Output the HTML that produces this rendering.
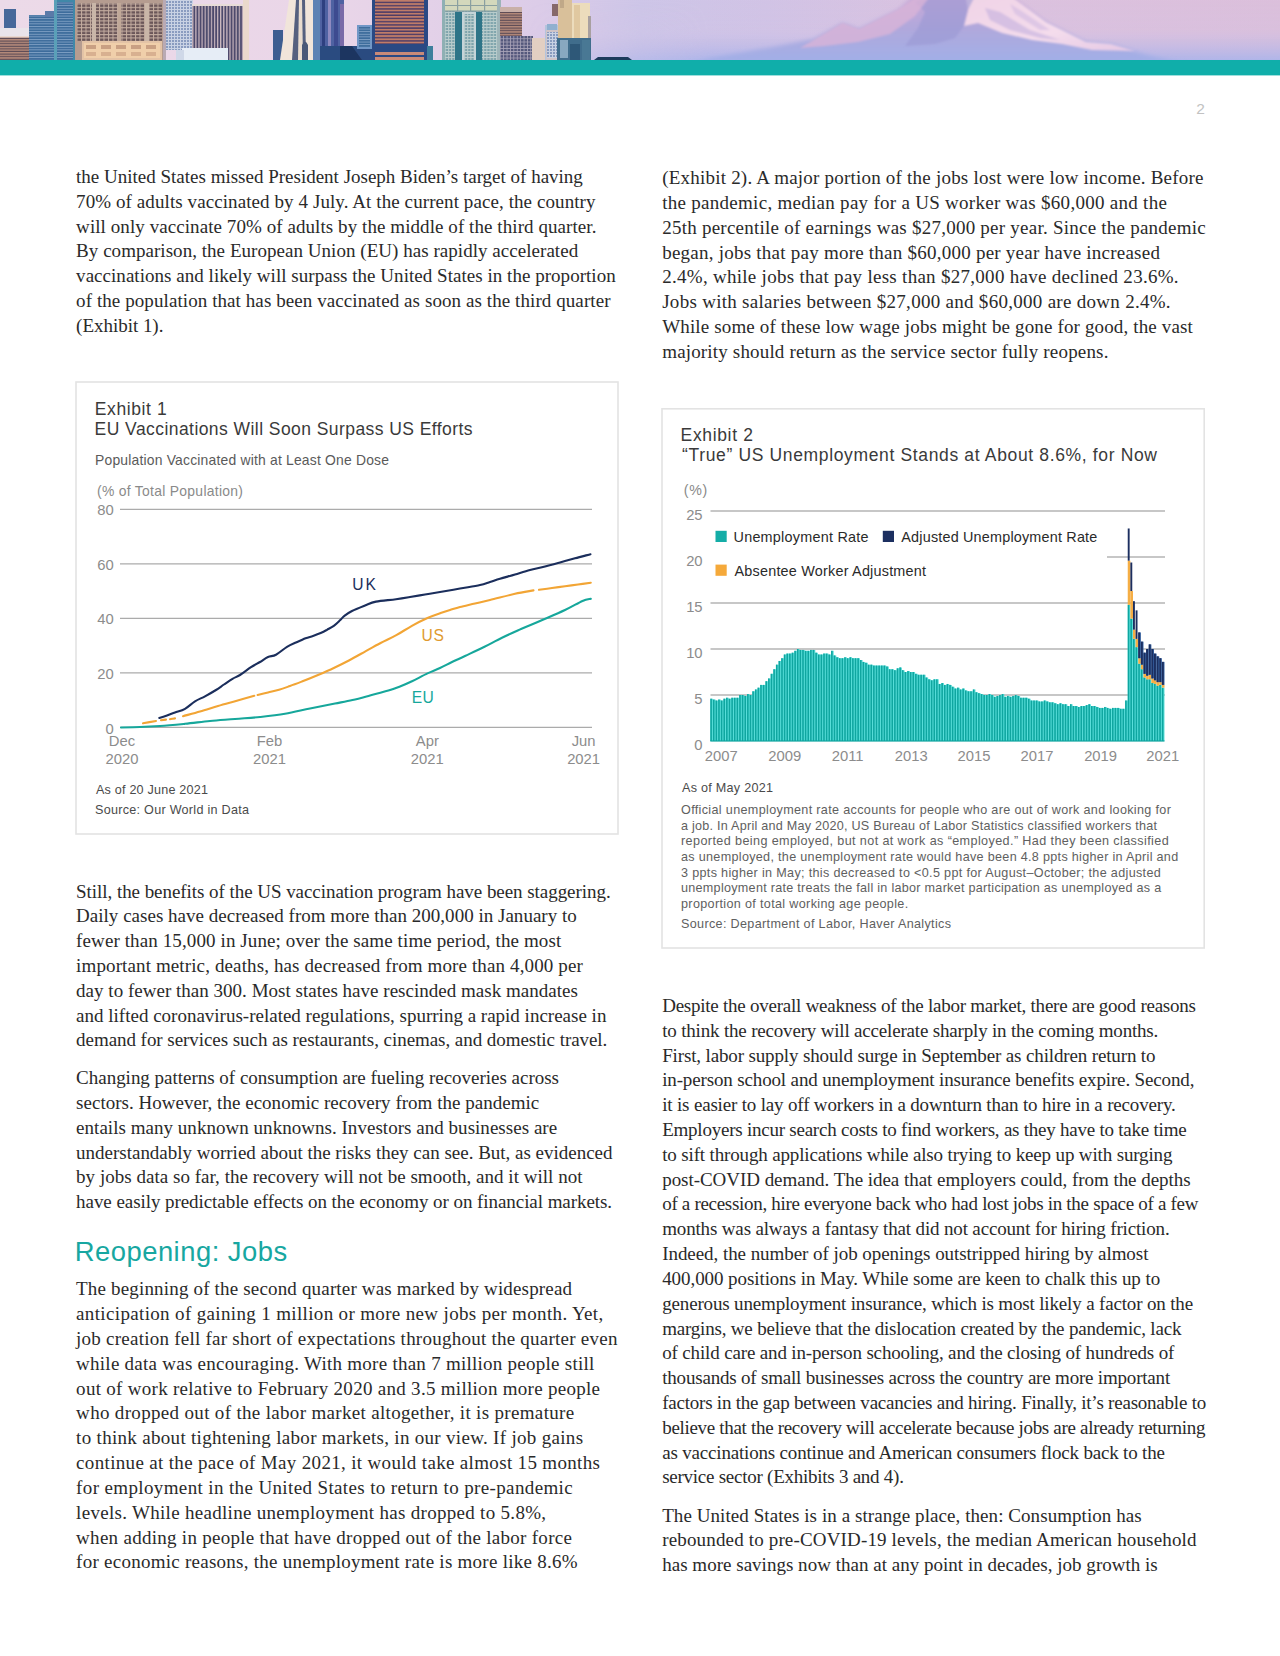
<!DOCTYPE html>
<html lang="en"><head><meta charset="utf-8"><title>Page 2</title>
<style>
html,body{margin:0;padding:0;background:#fff;}
body{width:1280px;height:1656px;position:relative;overflow:hidden;}
.hdr{position:absolute;left:0;top:0;display:block;}
.ex{position:absolute;display:block;}
.t{position:absolute;white-space:nowrap;font:19.0px/24px "Liberation Serif", "Times New Roman", serif;color:#2a2a2a;margin:0;}
.pn{position:absolute;left:1196.3px;top:100.6px;font:15.5px/16px "Liberation Sans",Arial,sans-serif;color:#c2c2c2;}
.h2{position:absolute;left:74.7px;white-space:nowrap;font:27.4px/32px "Liberation Sans",Arial,sans-serif;color:#17a7a1;margin:0;font-weight:normal;}
</style></head><body>
<svg class="hdr" width="1280" height="76" viewBox="0 0 1280 76">
<defs>
<linearGradient id="sky" x1="0" y1="0" x2="1" y2="0">
 <stop offset="0" stop-color="#ecdae8"/><stop offset="0.25" stop-color="#ead6e8"/><stop offset="0.42" stop-color="#dccce8"/><stop offset="0.5" stop-color="#cec6e8"/><stop offset="0.6" stop-color="#d2c4e6"/><stop offset="0.75" stop-color="#dcc3e0"/><stop offset="1" stop-color="#dcc0dc"/>
</linearGradient>
<linearGradient id="haze" x1="0" y1="0" x2="0" y2="1">
 <stop offset="0" stop-color="#c9bfe6" stop-opacity="0"/><stop offset="0.5" stop-color="#c9bfe6" stop-opacity="0.12"/><stop offset="0.85" stop-color="#b4b6e8" stop-opacity="0.7"/><stop offset="1" stop-color="#aab4ea" stop-opacity="0.9"/>
</linearGradient>
<linearGradient id="mtn" x1="0" y1="0" x2="0" y2="1">
 <stop offset="0" stop-color="#caa8d6"/><stop offset="0.5" stop-color="#b0a8dc"/><stop offset="1" stop-color="#a0b0e8"/>
</linearGradient>
<linearGradient id="snow" x1="0" y1="0" x2="1" y2="1">
 <stop offset="0" stop-color="#f0d3e6"/><stop offset="0.6" stop-color="#f4dcec"/><stop offset="1" stop-color="#e4c8e4"/>
</linearGradient>
<pattern id="hs1" width="4" height="3.2" patternUnits="userSpaceOnUse"><rect width="4" height="3.2" fill="#c07c68"/><rect y="1.8" width="4" height="1.4" fill="#4a3a66"/></pattern>
<pattern id="hs2" width="4" height="2.6" patternUnits="userSpaceOnUse"><rect width="4" height="2.6" fill="#b58a7a"/><rect y="1.5" width="4" height="1.1" fill="#5b4a55"/></pattern>
<pattern id="vs1" width="3.1" height="4" patternUnits="userSpaceOnUse"><rect width="3.1" height="4" fill="#cbb8c0"/><rect x="1.2" width="1.9" height="4" fill="#4d4a6c"/></pattern>
<pattern id="gr1" width="3" height="3" patternUnits="userSpaceOnUse"><rect width="3" height="3" fill="#c9d2e4"/><rect x="1" y="1" width="2" height="2" fill="#8a9cc0"/></pattern>
<pattern id="gr2" width="3" height="2.6" patternUnits="userSpaceOnUse"><rect width="3" height="2.6" fill="#3d6c9c"/><rect x="0" y="0" width="3" height="0.9" fill="#7fa0c4"/></pattern>
<pattern id="gr3" width="3.2" height="3" patternUnits="userSpaceOnUse"><rect width="3.2" height="3" fill="#b9cccc"/><rect x="1" y="1" width="2.2" height="2" fill="#7fa4ac"/></pattern>
<pattern id="gr4" width="4.5" height="3.4" patternUnits="userSpaceOnUse"><rect width="4.5" height="3.4" fill="#c4ada0"/><rect x="1" y="1.1" width="3.5" height="2.3" fill="#6a5658"/></pattern>
<pattern id="gr5" width="3.4" height="3.2" patternUnits="userSpaceOnUse"><rect width="3.4" height="3.2" fill="#a9a3b8"/><rect x="0.8" y="0.8" width="2.6" height="2.4" fill="#55597c"/></pattern>
<filter id="b1" x="-5%" y="-20%" width="110%" height="140%"><feGaussianBlur stdDeviation="0.75"/></filter>
<filter id="b2" x="-5%" y="-20%" width="110%" height="140%"><feGaussianBlur stdDeviation="2.2"/></filter>
<filter id="b3" x="-5%" y="-20%" width="110%" height="140%"><feGaussianBlur stdDeviation="1.1"/></filter>
<linearGradient id="hmg" x1="0" y1="0" x2="1" y2="0"><stop offset="0" stop-color="#000"/><stop offset="0.25" stop-color="#fff"/><stop offset="1" stop-color="#fff"/></linearGradient><mask id="hm" maskUnits="userSpaceOnUse" x="520" y="0" width="760" height="60"><rect x="520" y="0" width="760" height="60" fill="url(#hmg)"/></mask>
<clipPath id="hc"><rect width="1280" height="60"/></clipPath>
</defs>
<g clip-path="url(#hc)">
<rect width="1280" height="60" fill="url(#sky)"/>
<rect x="520" width="760" height="60" fill="url(#haze)" mask="url(#hm)"/>
<g filter="url(#b2)">
<polygon points="690,64 712,58 773,47 814,39 842.5,23 859,29 899,9 915,-6 1008,-6 1046,22 1086,42 1111,44 1147,55 1185,64" fill="url(#mtn)"/>
</g>
<g filter="url(#b3)">
<polygon points="965,-6 1008,-6 1046,22 1086,42 1111,44 1135,51 1092,50 1062,44 1032,40 1002,33 978,23 964,26 968,10" fill="url(#snow)"/>
<polygon points="915,2 935,-6 976,-6 968,10 964,26 955,38 935,44 905,46 918,28 925,12" fill="#9a98d4" opacity="0.6"/>
<polygon points="842.5,23 859,29 899,9 915,-2 930,-4 915,16 890,34 858,42 825,46 800,48" fill="#dab4d8" opacity="0.8"/>
<polygon points="985,8 1000,12 1030,30 1060,40 1040,38 1010,30 990,20" fill="#b9a8dc" opacity="0.5"/>
<polygon points="1010,4 1020,10 1050,30 1040,30 1015,14" fill="#c9b4e0" opacity="0.5"/>
</g>
<g filter="url(#b1)">
<rect x="4" y="9" width="12" height="20" fill="#46689a"/>
<rect x="0" y="28" width="32" height="9" fill="#e9e4ea"/>
<rect x="0" y="36" width="33" height="24" fill="url(#hs2)"/>
<rect x="0" y="36" width="33" height="1.5" fill="#e8d8d0"/>
<rect x="29" y="15" width="26" height="45" fill="url(#gr2)"/>
<rect x="45" y="11" width="10" height="6" fill="#5a7aa8"/>
<rect x="54" y="0" width="21" height="60" fill="#3f88a8"/>
<rect x="57" y="2" width="16" height="58" fill="url(#gr2)"/>
<rect x="54" y="0" width="3" height="60" fill="#5aa0b8"/>
<rect x="75" y="0" width="89" height="60" fill="#b59c90"/>
<rect x="77" y="3" width="85" height="38" fill="url(#gr4)"/>
<rect x="92" y="3" width="4" height="38" fill="#c9b6a8"/>
<rect x="145" y="3" width="4" height="38" fill="#c9b6a8"/>
<rect x="118" y="3" width="3" height="38" fill="#c0a898"/>
<rect x="82" y="41" width="80" height="19" fill="#e3c3a6"/>
<rect x="84" y="43" width="76" height="15" fill="url(#hs2)"/>
<rect x="84" y="43" width="76" height="15" fill="#f0cfaa"/>
<rect x="86" y="45" width="10" height="4" fill="#c9a083"/>
<rect x="86" y="52" width="10" height="4" fill="#d8b090"/>
<rect x="101" y="45" width="10" height="4" fill="#c9a083"/>
<rect x="101" y="52" width="10" height="4" fill="#d8b090"/>
<rect x="116" y="45" width="10" height="4" fill="#c9a083"/>
<rect x="116" y="52" width="10" height="4" fill="#d8b090"/>
<rect x="131" y="45" width="10" height="4" fill="#c9a083"/>
<rect x="131" y="52" width="10" height="4" fill="#d8b090"/>
<rect x="146" y="45" width="10" height="4" fill="#c9a083"/>
<rect x="146" y="52" width="10" height="4" fill="#d8b090"/>
<rect x="165" y="0" width="28" height="50" fill="url(#gr1)"/>
<rect x="163" y="0" width="3" height="60" fill="#b9aab4"/>
<rect x="192" y="4" width="52" height="56" fill="url(#vs1)"/>
<rect x="192" y="4" width="52" height="2" fill="#e8dcd8"/>
<rect x="243" y="0" width="6" height="60" fill="#ead9cc"/>
<rect x="182" y="48" width="46" height="12" fill="#e6edf6"/>
<rect x="176" y="50" width="8" height="10" fill="#cfd8e8"/>
<rect x="273" y="30" width="10" height="30" fill="#3c5d90"/>
<polygon points="289,0 313,0 316,60 280,60" fill="#f1e5da"/>
<polygon points="296,0 305,0 306,60 292,60" fill="#55607f"/>
<polygon points="299,0 302,0 303,60 298,60" fill="#e9dccf"/>
<path d="M302,60 L302,45 Q305,38 308,45 L308,60 Z" fill="#4a5878"/>
<rect x="313" y="0" width="8" height="60" fill="#5b82b4"/>
<rect x="320" y="0" width="24" height="48" fill="#4f62a2"/>
<rect x="322" y="0" width="3" height="48" fill="#2f3f80"/>
<rect x="328" y="0" width="3" height="48" fill="#8f8ac0"/>
<rect x="334" y="0" width="4" height="48" fill="#3c4c90"/>
<rect x="340" y="4" width="4" height="44" fill="#7a6aa8"/>
<rect x="320" y="46" width="52" height="14" fill="#2b4c80"/>
<rect x="357" y="25" width="15" height="24" fill="#7197c6"/>
<rect x="359" y="27" width="11" height="20" fill="url(#gr2)"/>
<polygon points="340,46 352,46 362,60 340,60" fill="#1f3560"/>
<rect x="372" y="0" width="56" height="60" fill="#2a4a84"/>
<rect x="375" y="0" width="49" height="44" fill="url(#hs1)"/>
<rect x="375" y="52" width="49" height="3" fill="#c98a78"/>
<rect x="375" y="57" width="49" height="3" fill="#c98a78"/>
<rect x="427" y="46" width="6" height="14" fill="#3d7f9c"/>
<rect x="442" y="0" width="59" height="60" fill="url(#gr3)"/>
<rect x="444" y="0" width="54" height="11" fill="#d3d8bc"/>
<rect x="444" y="5" width="54" height="1" fill="#8aa0a0"/>
<rect x="457" y="0" width="1.2" height="11" fill="#8aa0a0"/>
<rect x="470" y="0" width="1.2" height="11" fill="#8aa0a0"/>
<rect x="484" y="0" width="1.2" height="11" fill="#8aa0a0"/>
<rect x="444" y="10.5" width="54" height="1.2" fill="#7f9aa0"/>
<rect x="455" y="12" width="7" height="48" fill="#2d7488"/>
<rect x="476" y="12" width="6" height="48" fill="#2d7488"/>
<rect x="462" y="12" width="14" height="48" fill="#c5d4d8"/>
<rect x="464" y="14" width="10" height="46" fill="url(#gr3)"/>
<rect x="442" y="0" width="3" height="60" fill="#8fb0b4"/>
<rect x="497" y="0" width="4" height="60" fill="#9db4b8"/>
<rect x="500" y="7" width="22" height="29" fill="url(#hs2)"/>
<rect x="500" y="7" width="22" height="5" fill="#c9b0a8"/>
<rect x="500" y="36" width="33" height="24" fill="url(#gr5)"/>
<rect x="532" y="38" width="14" height="22" fill="#e2cfc2"/>
<rect x="545" y="25" width="18" height="35" fill="#b4c4dc"/>
<rect x="547" y="24" width="10" height="6" fill="#8fb0d0"/>
<rect x="546" y="30" width="16" height="30" fill="#cfc4c8"/>
<rect x="547" y="32" width="14" height="26" fill="url(#gr1)"/>
<rect x="552" y="4" width="8" height="12" fill="#86686a"/>
<rect x="558" y="0" width="14" height="40" fill="#d9c09a"/>
<rect x="560" y="0" width="4" height="8" fill="#c0a888"/>
<rect x="572" y="3" width="18" height="57" fill="#ecdcbc"/>
<rect x="574" y="5" width="6" height="55" fill="#e0c8a0"/>
<rect x="588" y="16" width="3" height="44" fill="#a8a0a0"/>
<rect x="557" y="38" width="34" height="22" fill="#3f6d8c"/>
<rect x="560" y="40" width="8" height="18" fill="#88a8c0"/>
<rect x="570" y="44" width="10" height="16" fill="#2f5878"/>
<rect x="582" y="40" width="8" height="20" fill="#4a7894"/>
<polygon points="594,60 598,57 628,57 632,60" fill="#1d3a5c"/>
</g>
</g>
<rect y="60" width="1280" height="15.4" fill="#10aeaa"/>
</svg>
<div class="pn">2</div>
<div class="t" style="left:76.1px;top:165.09px;letter-spacing:0.000px">the United States missed President Joseph Biden’s target of having</div>
<div class="t" style="left:76.1px;top:189.89px;letter-spacing:0.085px">70% of adults vaccinated by 4 July. At the current pace, the country</div>
<div class="t" style="left:76.1px;top:214.69px;letter-spacing:0.071px">will only vaccinate 70% of adults by the middle of the third quarter.</div>
<div class="t" style="left:76.1px;top:239.49px;letter-spacing:0.040px">By comparison, the European Union (EU) has rapidly accelerated</div>
<div class="t" style="left:76.1px;top:264.29px;letter-spacing:0.034px">vaccinations and likely will surpass the United States in the proportion</div>
<div class="t" style="left:76.1px;top:289.09px;letter-spacing:0.082px">of the population that has been vaccinated as soon as the third quarter</div>
<div class="t" style="left:76.1px;top:313.89px;letter-spacing:-0.026px">(Exhibit 1).</div>
<div class="t" style="left:76.1px;top:879.69px;letter-spacing:-0.052px">Still, the benefits of the US vaccination program have been staggering.</div>
<div class="t" style="left:76.1px;top:904.49px;letter-spacing:0.017px">Daily cases have decreased from more than 200,000 in January to</div>
<div class="t" style="left:76.1px;top:929.29px;letter-spacing:0.108px">fewer than 15,000 in June; over the same time period, the most</div>
<div class="t" style="left:76.1px;top:954.09px;letter-spacing:0.120px">important metric, deaths, has decreased from more than 4,000 per</div>
<div class="t" style="left:76.1px;top:978.89px;letter-spacing:0.016px">day to fewer than 300. Most states have rescinded mask mandates</div>
<div class="t" style="left:76.1px;top:1003.69px;letter-spacing:0.001px">and lifted coronavirus-related regulations, spurring a rapid increase in</div>
<div class="t" style="left:76.1px;top:1028.49px;letter-spacing:-0.054px">demand for services such as restaurants, cinemas, and domestic travel.</div>
<div class="t" style="left:76.1px;top:1066.29px;letter-spacing:-0.015px">Changing patterns of consumption are fueling recoveries across</div>
<div class="t" style="left:76.1px;top:1091.09px;letter-spacing:0.022px">sectors. However, the economic recovery from the pandemic</div>
<div class="t" style="left:76.1px;top:1115.89px;letter-spacing:0.033px">entails many unknown unknowns. Investors and businesses are</div>
<div class="t" style="left:76.1px;top:1140.69px;letter-spacing:-0.010px">understandably worried about the risks they can see. But, as evidenced</div>
<div class="t" style="left:76.1px;top:1165.49px;letter-spacing:0.024px">by jobs data so far, the recovery will not be smooth, and it will not</div>
<div class="t" style="left:76.1px;top:1190.29px;letter-spacing:-0.063px">have easily predictable effects on the economy or on financial markets.</div>
<div class="t" style="left:76.1px;top:1277.39px;letter-spacing:0.170px">The beginning of the second quarter was marked by widespread</div>
<div class="t" style="left:76.1px;top:1302.21px;letter-spacing:0.348px">anticipation of gaining 1 million or more new jobs per month. Yet,</div>
<div class="t" style="left:76.1px;top:1327.03px;letter-spacing:0.241px">job creation fell far short of expectations throughout the quarter even</div>
<div class="t" style="left:76.1px;top:1351.85px;letter-spacing:0.258px">while data was encouraging. With more than 7 million people still</div>
<div class="t" style="left:76.1px;top:1376.67px;letter-spacing:0.288px">out of work relative to February 2020 and 3.5 million more people</div>
<div class="t" style="left:76.1px;top:1401.49px;letter-spacing:0.327px">who dropped out of the labor market altogether, it is premature</div>
<div class="t" style="left:76.1px;top:1426.31px;letter-spacing:0.309px">to think about tightening labor markets, in our view. If job gains</div>
<div class="t" style="left:76.1px;top:1451.13px;letter-spacing:0.333px">continue at the pace of May 2021, it would take almost 15 months</div>
<div class="t" style="left:76.1px;top:1475.95px;letter-spacing:0.371px">for employment in the United States to return to pre-pandemic</div>
<div class="t" style="left:76.1px;top:1500.77px;letter-spacing:0.301px">levels. While headline unemployment has dropped to 5.8%,</div>
<div class="t" style="left:76.1px;top:1525.59px;letter-spacing:0.283px">when adding in people that have dropped out of the labor force</div>
<div class="t" style="left:76.1px;top:1550.41px;letter-spacing:0.258px">for economic reasons, the unemployment rate is more like 8.6%</div>
<div class="t" style="left:662.2px;top:166.14px;letter-spacing:0.216px">(Exhibit 2). A major portion of the jobs lost were low income. Before</div>
<div class="t" style="left:662.2px;top:190.94px;letter-spacing:0.282px">the pandemic, median pay for a US worker was $60,000 and the</div>
<div class="t" style="left:662.2px;top:215.74px;letter-spacing:0.238px">25th percentile of earnings was $27,000 per year. Since the pandemic</div>
<div class="t" style="left:662.2px;top:240.54px;letter-spacing:0.237px">began, jobs that pay more than $60,000 per year have increased</div>
<div class="t" style="left:662.2px;top:265.34px;letter-spacing:0.282px">2.4%, while jobs that pay less than $27,000 have declined 23.6%.</div>
<div class="t" style="left:662.2px;top:290.14px;letter-spacing:0.286px">Jobs with salaries between $27,000 and $60,000 are down 2.4%.</div>
<div class="t" style="left:662.2px;top:314.94px;letter-spacing:0.143px">While some of these low wage jobs might be gone for good, the vast</div>
<div class="t" style="left:662.2px;top:339.74px;letter-spacing:0.170px">majority should return as the service sector fully reopens.</div>
<div class="t" style="left:662.2px;top:993.99px;letter-spacing:-0.240px">Despite the overall weakness of the labor market, there are good reasons</div>
<div class="t" style="left:662.2px;top:1018.80px;letter-spacing:-0.181px">to think the recovery will accelerate sharply in the coming months.</div>
<div class="t" style="left:662.2px;top:1043.61px;letter-spacing:-0.140px">First, labor supply should surge in September as children return to</div>
<div class="t" style="left:662.2px;top:1068.42px;letter-spacing:-0.144px">in-person school and unemployment insurance benefits expire. Second,</div>
<div class="t" style="left:662.2px;top:1093.23px;letter-spacing:-0.173px">it is easier to lay off workers in a downturn than to hire in a recovery.</div>
<div class="t" style="left:662.2px;top:1118.04px;letter-spacing:-0.234px">Employers incur search costs to find workers, as they have to take time</div>
<div class="t" style="left:662.2px;top:1142.85px;letter-spacing:-0.149px">to sift through applications while also trying to keep up with surging</div>
<div class="t" style="left:662.2px;top:1167.66px;letter-spacing:-0.040px">post-COVID demand. The idea that employers could, from the depths</div>
<div class="t" style="left:662.2px;top:1192.47px;letter-spacing:-0.301px">of a recession, hire everyone back who had lost jobs in the space of a few</div>
<div class="t" style="left:662.2px;top:1217.28px;letter-spacing:-0.157px">months was always a fantasy that did not account for hiring friction.</div>
<div class="t" style="left:662.2px;top:1242.09px;letter-spacing:-0.056px">Indeed, the number of job openings outstripped hiring by almost</div>
<div class="t" style="left:662.2px;top:1266.90px;letter-spacing:-0.077px">400,000 positions in May. While some are keen to chalk this up to</div>
<div class="t" style="left:662.2px;top:1291.71px;letter-spacing:-0.162px">generous unemployment insurance, which is most likely a factor on the</div>
<div class="t" style="left:662.2px;top:1316.52px;letter-spacing:-0.193px">margins, we believe that the dislocation created by the pandemic, lack</div>
<div class="t" style="left:662.2px;top:1341.33px;letter-spacing:-0.150px">of child care and in-person schooling, and the closing of hundreds of</div>
<div class="t" style="left:662.2px;top:1366.14px;letter-spacing:-0.194px">thousands of small businesses across the country are more important</div>
<div class="t" style="left:662.2px;top:1390.95px;letter-spacing:-0.222px">factors in the gap between vacancies and hiring. Finally, it’s reasonable to</div>
<div class="t" style="left:662.2px;top:1415.76px;letter-spacing:-0.311px">believe that the recovery will accelerate because jobs are already returning</div>
<div class="t" style="left:662.2px;top:1440.57px;letter-spacing:-0.182px">as vaccinations continue and American consumers flock back to the</div>
<div class="t" style="left:662.2px;top:1465.38px;letter-spacing:-0.253px">service sector (Exhibits 3 and 4).</div>
<div class="t" style="left:662.2px;top:1503.64px;letter-spacing:0.067px">The United States is in a strange place, then: Consumption has</div>
<div class="t" style="left:662.2px;top:1528.44px;letter-spacing:0.159px">rebounded to pre-COVID-19 levels, the median American household</div>
<div class="t" style="left:662.2px;top:1553.24px;letter-spacing:0.018px">has more savings now than at any point in decades, job growth is</div>
<h2 class="h2" style="top:1235.74px;letter-spacing:0.495px">Reopening: Jobs</h2>
<svg class="ex" style="left:75px;top:381px" width="544" height="454" viewBox="75 381 544 454" font-family="'Liberation Sans', Arial, sans-serif">
<rect x="76" y="382" width="542" height="452" fill="#fff" stroke="#e3e3e3" stroke-width="1.6"/>
<text x="94.8" y="414.5" font-size="17.5" fill="#3a3a3a" textLength="72.0" lengthAdjust="spacing">Exhibit 1</text>
<text x="94.6" y="435.2" font-size="17.5" fill="#3a3a3a" textLength="378.0" lengthAdjust="spacing">EU Vaccinations Will Soon Surpass US Efforts</text>
<text x="95" y="465" font-size="13.9" fill="#5a5a5a" textLength="294.0" lengthAdjust="spacing">Population Vaccinated with at Least One Dose</text>
<text x="97" y="496" font-size="13.9" fill="#8a8a8a" textLength="146.0" lengthAdjust="spacing">(% of Total Population)</text>
<line x1="120" x2="592" y1="509.3" y2="509.3" stroke="#ababab" stroke-width="1.3"/>
<text x="113.8" y="515.4" font-size="14.8" fill="#8c8c8c" text-anchor="end">80</text>
<line x1="120" x2="592" y1="563.8" y2="563.8" stroke="#ababab" stroke-width="1.3"/>
<text x="113.8" y="569.9" font-size="14.8" fill="#8c8c8c" text-anchor="end">60</text>
<line x1="120" x2="592" y1="618.3" y2="618.3" stroke="#ababab" stroke-width="1.3"/>
<text x="113.8" y="624.4" font-size="14.8" fill="#8c8c8c" text-anchor="end">40</text>
<line x1="120" x2="592" y1="672.9" y2="672.9" stroke="#ababab" stroke-width="1.3"/>
<text x="113.8" y="679.0" font-size="14.8" fill="#8c8c8c" text-anchor="end">20</text>
<line x1="120" x2="592" y1="727.4" y2="727.4" stroke="#ababab" stroke-width="1.3"/>
<text x="113.8" y="733.5" font-size="14.8" fill="#8c8c8c" text-anchor="end">0</text>
<text x="122" y="746.3" font-size="14.8" fill="#8c8c8c" text-anchor="middle">Dec</text>
<text x="122" y="764" font-size="14.8" fill="#8c8c8c" text-anchor="middle">2020</text>
<text x="269.5" y="746.3" font-size="14.8" fill="#8c8c8c" text-anchor="middle">Feb</text>
<text x="269.5" y="764" font-size="14.8" fill="#8c8c8c" text-anchor="middle">2021</text>
<text x="427.3" y="746.3" font-size="14.8" fill="#8c8c8c" text-anchor="middle">Apr</text>
<text x="427.3" y="764" font-size="14.8" fill="#8c8c8c" text-anchor="middle">2021</text>
<text x="583.6" y="746.3" font-size="14.8" fill="#8c8c8c" text-anchor="middle">Jun</text>
<text x="583.6" y="764" font-size="14.8" fill="#8c8c8c" text-anchor="middle">2021</text>
<path d="M121.0,727.5 C124.2,727.4 133.5,727.2 140.0,727.0 C146.5,726.8 152.5,726.5 160.0,726.0 C167.5,725.5 176.7,724.6 185.0,723.8 C193.3,723.0 201.7,721.8 210.0,721.0 C218.3,720.2 226.7,719.7 235.0,719.0 C243.3,718.3 251.7,717.9 260.0,717.0 C268.3,716.1 276.7,715.2 285.0,713.8 C293.3,712.4 301.7,710.2 310.0,708.5 C318.3,706.8 327.9,704.9 335.0,703.5 C342.1,702.1 346.7,701.3 352.5,700.0 C358.3,698.7 364.0,697.1 370.0,695.5 C376.0,693.9 383.4,692.1 388.4,690.6 C393.4,689.1 396.1,688.0 400.0,686.5 C403.9,685.0 407.4,683.5 412.0,681.3 C416.6,679.1 422.8,675.6 427.5,673.4 C432.2,671.2 435.9,669.9 440.0,668.0 C444.1,666.1 447.8,664.0 452.0,662.0 C456.2,660.0 459.7,658.5 465.0,656.0 C470.3,653.5 477.8,650.1 484.0,647.0 C490.2,643.9 496.3,640.5 502.5,637.5 C508.7,634.5 514.8,631.8 521.0,629.0 C527.2,626.2 532.7,624.2 540.0,621.0 C547.3,617.8 557.9,613.3 565.0,610.0 C572.1,606.7 578.2,602.9 582.5,601.0 C586.8,599.1 589.4,599.2 590.8,598.8" fill="none" stroke="#16a79b" stroke-width="2.1" stroke-linecap="round"/>
<path d="M143.0,723.2 C145.2,722.8 153.8,721.4 156.0,721.0" fill="none" stroke="#f2a535" stroke-width="2.1" stroke-linecap="round"/>
<path d="M161.0,720.2 C161.8,720.1 165.2,719.7 166.0,719.6" fill="none" stroke="#f2a535" stroke-width="2.1" stroke-linecap="round"/>
<path d="M170.0,719.2 C170.8,719.1 174.2,718.5 175.0,718.4" fill="none" stroke="#f2a535" stroke-width="2.1" stroke-linecap="round"/>
<path d="M183.0,716.2 C185.8,715.4 194.2,713.2 200.0,711.5 C205.8,709.8 212.0,707.8 218.0,706.0 C224.0,704.2 229.9,702.7 236.0,701.0 C242.1,699.3 251.2,696.7 254.3,695.8" fill="none" stroke="#f2a535" stroke-width="2.1" stroke-linecap="round"/>
<path d="M257.6,695.0 C259.3,694.6 264.4,693.4 268.0,692.5 C271.6,691.6 275.3,690.9 279.0,689.8 C282.7,688.7 286.1,687.4 290.0,686.0 C293.9,684.6 297.8,683.1 302.5,681.3 C307.2,679.5 312.8,677.2 318.0,675.0 C323.2,672.8 328.6,670.5 333.8,668.0 C339.0,665.5 344.2,662.9 349.4,660.2 C354.6,657.5 359.8,654.5 365.0,651.6 C370.2,648.7 375.4,645.7 380.6,643.0 C385.8,640.3 391.1,638.1 396.3,635.2 C401.5,632.3 406.7,628.7 411.9,625.8 C417.1,622.9 422.8,620.1 427.5,618.0 C432.2,615.9 436.2,614.6 440.0,613.3 C443.8,612.0 446.7,611.0 450.0,610.0 C453.3,609.0 455.8,608.1 460.0,607.0 C464.2,605.9 470.0,604.7 475.0,603.5 C480.0,602.3 483.3,601.6 490.0,600.0 C496.7,598.4 507.8,595.4 515.0,593.8 C522.2,592.2 530.4,591.0 533.5,590.4" fill="none" stroke="#f2a535" stroke-width="2.1" stroke-linecap="round"/>
<path d="M539.0,589.8 C541.2,589.5 547.7,588.6 552.0,588.0 C556.3,587.4 560.7,586.8 565.0,586.2 C569.3,585.6 573.7,585.1 578.0,584.5 C582.3,583.9 588.7,583.0 590.8,582.7" fill="none" stroke="#f2a535" stroke-width="2.1" stroke-linecap="round"/>
<path d="M159.3,718.0 C160.6,717.6 164.4,716.4 167.0,715.5 C169.6,714.6 172.0,713.6 175.0,712.5 C178.0,711.4 181.7,710.7 185.0,708.8 C188.3,706.9 191.7,703.4 195.0,701.3 C198.3,699.2 201.5,698.2 205.0,696.3 C208.5,694.4 212.8,692.0 216.0,690.0 C219.2,688.0 221.2,686.4 224.0,684.5 C226.8,682.6 229.8,680.4 232.5,678.8 C235.2,677.2 236.9,676.9 240.0,675.0 C243.1,673.1 247.7,669.4 251.0,667.2 C254.3,665.0 257.2,663.7 260.0,662.0 C262.8,660.3 265.3,658.2 268.0,657.0 C270.7,655.8 272.8,656.4 276.0,654.7 C279.2,653.0 283.7,648.9 287.0,646.9 C290.3,644.9 292.9,643.9 296.0,642.5 C299.1,641.1 302.8,639.4 305.6,638.3 C308.4,637.2 310.4,636.9 313.0,636.0 C315.6,635.1 319.0,633.8 321.3,632.8 C323.6,631.8 324.9,631.0 327.0,629.8 C329.1,628.6 331.6,627.4 333.8,625.8 C336.0,624.2 338.2,622.0 340.0,620.3 C341.8,618.6 342.7,617.1 344.7,615.6 C346.7,614.1 348.6,612.7 352.0,611.0 C355.4,609.3 361.0,607.1 365.0,605.5 C369.0,603.9 370.8,602.6 376.0,601.6 C381.2,600.6 390.3,600.0 396.0,599.2 C401.7,598.4 405.2,597.8 410.0,597.0 C414.8,596.2 420.0,595.3 425.0,594.5 C430.0,593.7 434.2,593.0 440.0,592.0 C445.8,591.0 453.3,589.7 460.0,588.5 C466.7,587.3 475.0,586.1 480.0,585.0 C485.0,583.9 486.7,583.0 490.0,582.0 C493.3,581.0 495.8,580.0 500.0,578.8 C504.2,577.5 510.0,576.0 515.0,574.5 C520.0,573.0 525.0,571.3 530.0,570.0 C535.0,568.7 540.0,567.8 545.0,566.5 C550.0,565.2 555.0,563.9 560.0,562.5 C565.0,561.1 569.9,559.7 575.0,558.3 C580.1,556.9 587.9,554.9 590.5,554.2" fill="none" stroke="#1b2e5c" stroke-width="2.1" stroke-linecap="round"/>
<text x="352.3" y="590.3" font-size="15.6" fill="#1b2e5c" textLength="23.5" lengthAdjust="spacing">UK</text>
<text x="421.5" y="641.2" font-size="15.6" fill="#e09a30" textLength="22.5" lengthAdjust="spacing">US</text>
<text x="411.8" y="703.3" font-size="15.6" fill="#16a79b" textLength="22.0" lengthAdjust="spacing">EU</text>
<text x="96" y="793.8" font-size="12.6" fill="#4a4a4a" textLength="112.0" lengthAdjust="spacing">As of 20 June 2021</text>
<text x="95" y="814.3" font-size="12.6" fill="#4a4a4a" textLength="154.0" lengthAdjust="spacing">Source: Our World in Data</text>
</svg>
<svg class="ex" style="left:661px;top:408px" width="544" height="541" viewBox="661 408 544 541" font-family="'Liberation Sans', Arial, sans-serif">
<rect x="662" y="408.8" width="542.2" height="539.2" fill="#fff" stroke="#e3e3e3" stroke-width="1.6"/>
<text x="680.6" y="440.8" font-size="17.5" fill="#3a3a3a" textLength="72.3" lengthAdjust="spacing">Exhibit 2</text>
<text x="682" y="461.3" font-size="17.5" fill="#3a3a3a" textLength="475.0" lengthAdjust="spacing">“True” US Unemployment Stands at About 8.6%, for Now</text>
<text x="683.8" y="495.3" font-size="14.2" fill="#8a8a8a" textLength="23.5" lengthAdjust="spacing">(%)</text>
<line x1="710.5" x2="1165" y1="511.0" y2="511.0" stroke="#b4b4b4" stroke-width="1.3"/>
<line x1="1107" x2="1165" y1="557.0" y2="557.0" stroke="#b4b4b4" stroke-width="1.3"/>
<line x1="710.5" x2="1165" y1="603.0" y2="603.0" stroke="#b4b4b4" stroke-width="1.3"/>
<line x1="710.5" x2="1165" y1="649.0" y2="649.0" stroke="#b4b4b4" stroke-width="1.3"/>
<line x1="710.5" x2="1165" y1="695.0" y2="695.0" stroke="#b4b4b4" stroke-width="1.3"/>
<text x="702.6" y="519.6" font-size="14.8" fill="#8c8c8c" text-anchor="end">25</text>
<text x="702.6" y="565.6" font-size="14.8" fill="#8c8c8c" text-anchor="end">20</text>
<text x="702.6" y="611.6" font-size="14.8" fill="#8c8c8c" text-anchor="end">15</text>
<text x="702.6" y="657.6" font-size="14.8" fill="#8c8c8c" text-anchor="end">10</text>
<text x="702.6" y="703.6" font-size="14.8" fill="#8c8c8c" text-anchor="end">5</text>
<text x="702.6" y="749.6" font-size="14.8" fill="#8c8c8c" text-anchor="end">0</text>
<g shape-rendering="auto">
<polygon points="710.30,741.0 710.30,698.68 712.93,698.68 712.93,699.60 715.55,699.60 715.55,700.52 718.18,700.52 718.18,699.60 720.80,699.60 720.80,700.52 723.43,700.52 723.43,698.68 726.05,698.68 726.05,697.76 728.68,697.76 728.68,698.68 731.30,698.68 731.30,697.76 733.93,697.76 733.93,697.76 736.55,697.76 736.55,697.76 739.18,697.76 739.18,695.00 741.80,695.00 741.80,695.00 744.43,695.00 744.43,695.92 747.06,695.92 747.06,694.08 749.68,694.08 749.68,695.00 752.31,695.00 752.31,691.32 754.93,691.32 754.93,689.48 757.56,689.48 757.56,687.64 760.18,687.64 760.18,684.88 762.81,684.88 762.81,684.88 765.43,684.88 765.43,681.20 768.06,681.20 768.06,678.44 770.68,678.44 770.68,673.84 773.31,673.84 773.31,669.24 775.93,669.24 775.93,664.64 778.56,664.64 778.56,660.96 781.19,660.96 781.19,658.20 783.81,658.20 783.81,654.52 786.44,654.52 786.44,653.60 789.06,653.60 789.06,653.60 791.69,653.60 791.69,652.68 794.31,652.68 794.31,650.84 796.94,650.84 796.94,649.00 799.56,649.00 799.56,649.92 802.19,649.92 802.19,649.92 804.81,649.92 804.81,650.84 807.44,650.84 807.44,650.84 810.07,650.84 810.07,649.92 812.69,649.92 812.69,649.92 815.32,649.92 815.32,652.68 817.94,652.68 817.94,654.52 820.57,654.52 820.57,654.52 823.19,654.52 823.19,653.60 825.82,653.60 825.82,653.60 828.44,653.60 828.44,654.52 831.07,654.52 831.07,650.84 833.69,650.84 833.69,655.44 836.32,655.44 836.32,657.28 838.94,657.28 838.94,658.20 841.57,658.20 841.57,658.20 844.20,658.20 844.20,657.28 846.82,657.28 846.82,658.20 849.45,658.20 849.45,657.28 852.07,657.28 852.07,658.20 854.70,658.20 854.70,658.20 857.32,658.20 857.32,658.20 859.95,658.20 859.95,660.04 862.57,660.04 862.57,661.88 865.20,661.88 865.20,662.80 867.82,662.80 867.82,664.64 870.45,664.64 870.45,664.64 873.07,664.64 873.07,665.56 875.70,665.56 875.70,665.56 878.33,665.56 878.33,665.56 880.95,665.56 880.95,665.56 883.58,665.56 883.58,665.56 886.20,665.56 886.20,666.48 888.83,666.48 888.83,669.24 891.45,669.24 891.45,669.24 894.08,669.24 894.08,670.16 896.70,670.16 896.70,668.32 899.33,668.32 899.33,667.40 901.95,667.40 901.95,670.16 904.58,670.16 904.58,672.00 907.20,672.00 907.20,671.08 909.83,671.08 909.83,672.00 912.46,672.00 912.46,672.00 915.08,672.00 915.08,673.84 917.71,673.84 917.71,674.76 920.33,674.76 920.33,674.76 922.96,674.76 922.96,674.76 925.58,674.76 925.58,677.52 928.21,677.52 928.21,679.36 930.83,679.36 930.83,680.28 933.46,680.28 933.46,679.36 936.08,679.36 936.08,679.36 938.71,679.36 938.71,683.96 941.34,683.96 941.34,683.04 943.96,683.04 943.96,684.88 946.59,684.88 946.59,683.96 949.21,683.96 949.21,684.88 951.84,684.88 951.84,686.72 954.46,686.72 954.46,688.56 957.09,688.56 957.09,687.64 959.71,687.64 959.71,689.48 962.34,689.48 962.34,688.56 964.96,688.56 964.96,690.40 967.59,690.40 967.59,691.32 970.21,691.32 970.21,691.32 972.84,691.32 972.84,689.48 975.47,689.48 975.47,692.24 978.09,692.24 978.09,693.16 980.72,693.16 980.72,694.08 983.34,694.08 983.34,695.00 985.97,695.00 985.97,695.00 988.59,695.00 988.59,694.08 991.22,694.08 991.22,695.00 993.84,695.00 993.84,696.84 996.47,696.84 996.47,695.92 999.09,695.92 999.09,695.00 1001.72,695.00 1001.72,694.08 1004.34,694.08 1004.34,696.84 1006.97,696.84 1006.97,695.92 1009.60,695.92 1009.60,696.84 1012.22,696.84 1012.22,695.92 1014.85,695.92 1014.85,695.00 1017.47,695.00 1017.47,695.92 1020.10,695.92 1020.10,697.76 1022.72,697.76 1022.72,697.76 1025.35,697.76 1025.35,697.76 1027.97,697.76 1027.97,698.68 1030.60,698.68 1030.60,700.52 1033.22,700.52 1033.22,700.52 1035.85,700.52 1035.85,700.52 1038.47,700.52 1038.47,701.44 1041.10,701.44 1041.10,701.44 1043.73,701.44 1043.73,700.52 1046.35,700.52 1046.35,701.44 1048.98,701.44 1048.98,702.36 1051.60,702.36 1051.60,702.36 1054.23,702.36 1054.23,703.28 1056.85,703.28 1056.85,704.20 1059.48,704.20 1059.48,703.28 1062.10,703.28 1062.10,704.20 1064.73,704.20 1064.73,704.20 1067.35,704.20 1067.35,706.04 1069.98,706.04 1069.98,704.20 1072.61,704.20 1072.61,706.04 1075.23,706.04 1075.23,706.04 1077.86,706.04 1077.86,706.96 1080.48,706.96 1080.48,706.04 1083.11,706.04 1083.11,706.04 1085.73,706.04 1085.73,705.12 1088.36,705.12 1088.36,704.20 1090.98,704.20 1090.98,706.04 1093.61,706.04 1093.61,706.04 1096.23,706.04 1096.23,706.96 1098.86,706.96 1098.86,707.88 1101.48,707.88 1101.48,707.88 1104.11,707.88 1104.11,706.96 1106.74,706.96 1106.74,707.88 1109.36,707.88 1109.36,708.80 1111.99,708.80 1111.99,707.88 1114.61,707.88 1114.61,707.88 1117.24,707.88 1117.24,707.88 1119.86,707.88 1119.86,708.80 1122.49,708.80 1122.49,708.80 1125.11,708.80 1125.11,700.52 1127.74,700.52 1127.74,604.84 1130.36,604.84 1130.36,618.64 1132.99,618.64 1132.99,638.88 1135.61,638.88 1135.61,647.16 1138.24,647.16 1138.24,663.72 1140.87,663.72 1140.87,669.24 1143.49,669.24 1143.49,677.52 1146.12,677.52 1146.12,679.36 1148.74,679.36 1148.74,679.36 1151.37,679.36 1151.37,683.04 1153.99,683.04 1153.99,683.96 1156.62,683.96 1156.62,685.80 1159.24,685.80 1159.24,684.88 1161.87,684.88 1161.87,687.64 1164.49,687.64 1164.49,741.0" fill="#5be0dc"/>
<rect x="710.30" y="698.68" width="1.6" height="42.32" fill="#0fa6a0"/>
<rect x="712.93" y="699.60" width="1.6" height="41.40" fill="#0fa6a0"/>
<rect x="715.55" y="700.52" width="1.6" height="40.48" fill="#0fa6a0"/>
<rect x="718.18" y="699.60" width="1.6" height="41.40" fill="#0fa6a0"/>
<rect x="720.80" y="700.52" width="1.6" height="40.48" fill="#0fa6a0"/>
<rect x="723.43" y="698.68" width="1.6" height="42.32" fill="#0fa6a0"/>
<rect x="726.05" y="697.76" width="1.6" height="43.24" fill="#0fa6a0"/>
<rect x="728.68" y="698.68" width="1.6" height="42.32" fill="#0fa6a0"/>
<rect x="731.30" y="697.76" width="1.6" height="43.24" fill="#0fa6a0"/>
<rect x="733.93" y="697.76" width="1.6" height="43.24" fill="#0fa6a0"/>
<rect x="736.55" y="697.76" width="1.6" height="43.24" fill="#0fa6a0"/>
<rect x="739.18" y="695.00" width="1.6" height="46.00" fill="#0fa6a0"/>
<rect x="741.80" y="695.00" width="1.6" height="46.00" fill="#0fa6a0"/>
<rect x="744.43" y="695.92" width="1.6" height="45.08" fill="#0fa6a0"/>
<rect x="747.06" y="694.08" width="1.6" height="46.92" fill="#0fa6a0"/>
<rect x="749.68" y="695.00" width="1.6" height="46.00" fill="#0fa6a0"/>
<rect x="752.31" y="691.32" width="1.6" height="49.68" fill="#0fa6a0"/>
<rect x="754.93" y="689.48" width="1.6" height="51.52" fill="#0fa6a0"/>
<rect x="757.56" y="687.64" width="1.6" height="53.36" fill="#0fa6a0"/>
<rect x="760.18" y="684.88" width="1.6" height="56.12" fill="#0fa6a0"/>
<rect x="762.81" y="684.88" width="1.6" height="56.12" fill="#0fa6a0"/>
<rect x="765.43" y="681.20" width="1.6" height="59.80" fill="#0fa6a0"/>
<rect x="768.06" y="678.44" width="1.6" height="62.56" fill="#0fa6a0"/>
<rect x="770.68" y="673.84" width="1.6" height="67.16" fill="#0fa6a0"/>
<rect x="773.31" y="669.24" width="1.6" height="71.76" fill="#0fa6a0"/>
<rect x="775.93" y="664.64" width="1.6" height="76.36" fill="#0fa6a0"/>
<rect x="778.56" y="660.96" width="1.6" height="80.04" fill="#0fa6a0"/>
<rect x="781.19" y="658.20" width="1.6" height="82.80" fill="#0fa6a0"/>
<rect x="783.81" y="654.52" width="1.6" height="86.48" fill="#0fa6a0"/>
<rect x="786.44" y="653.60" width="1.6" height="87.40" fill="#0fa6a0"/>
<rect x="789.06" y="653.60" width="1.6" height="87.40" fill="#0fa6a0"/>
<rect x="791.69" y="652.68" width="1.6" height="88.32" fill="#0fa6a0"/>
<rect x="794.31" y="650.84" width="1.6" height="90.16" fill="#0fa6a0"/>
<rect x="796.94" y="649.00" width="1.6" height="92.00" fill="#0fa6a0"/>
<rect x="799.56" y="649.92" width="1.6" height="91.08" fill="#0fa6a0"/>
<rect x="802.19" y="649.92" width="1.6" height="91.08" fill="#0fa6a0"/>
<rect x="804.81" y="650.84" width="1.6" height="90.16" fill="#0fa6a0"/>
<rect x="807.44" y="650.84" width="1.6" height="90.16" fill="#0fa6a0"/>
<rect x="810.07" y="649.92" width="1.6" height="91.08" fill="#0fa6a0"/>
<rect x="812.69" y="649.92" width="1.6" height="91.08" fill="#0fa6a0"/>
<rect x="815.32" y="652.68" width="1.6" height="88.32" fill="#0fa6a0"/>
<rect x="817.94" y="654.52" width="1.6" height="86.48" fill="#0fa6a0"/>
<rect x="820.57" y="654.52" width="1.6" height="86.48" fill="#0fa6a0"/>
<rect x="823.19" y="653.60" width="1.6" height="87.40" fill="#0fa6a0"/>
<rect x="825.82" y="653.60" width="1.6" height="87.40" fill="#0fa6a0"/>
<rect x="828.44" y="654.52" width="1.6" height="86.48" fill="#0fa6a0"/>
<rect x="831.07" y="650.84" width="1.6" height="90.16" fill="#0fa6a0"/>
<rect x="833.69" y="655.44" width="1.6" height="85.56" fill="#0fa6a0"/>
<rect x="836.32" y="657.28" width="1.6" height="83.72" fill="#0fa6a0"/>
<rect x="838.94" y="658.20" width="1.6" height="82.80" fill="#0fa6a0"/>
<rect x="841.57" y="658.20" width="1.6" height="82.80" fill="#0fa6a0"/>
<rect x="844.20" y="657.28" width="1.6" height="83.72" fill="#0fa6a0"/>
<rect x="846.82" y="658.20" width="1.6" height="82.80" fill="#0fa6a0"/>
<rect x="849.45" y="657.28" width="1.6" height="83.72" fill="#0fa6a0"/>
<rect x="852.07" y="658.20" width="1.6" height="82.80" fill="#0fa6a0"/>
<rect x="854.70" y="658.20" width="1.6" height="82.80" fill="#0fa6a0"/>
<rect x="857.32" y="658.20" width="1.6" height="82.80" fill="#0fa6a0"/>
<rect x="859.95" y="660.04" width="1.6" height="80.96" fill="#0fa6a0"/>
<rect x="862.57" y="661.88" width="1.6" height="79.12" fill="#0fa6a0"/>
<rect x="865.20" y="662.80" width="1.6" height="78.20" fill="#0fa6a0"/>
<rect x="867.82" y="664.64" width="1.6" height="76.36" fill="#0fa6a0"/>
<rect x="870.45" y="664.64" width="1.6" height="76.36" fill="#0fa6a0"/>
<rect x="873.07" y="665.56" width="1.6" height="75.44" fill="#0fa6a0"/>
<rect x="875.70" y="665.56" width="1.6" height="75.44" fill="#0fa6a0"/>
<rect x="878.33" y="665.56" width="1.6" height="75.44" fill="#0fa6a0"/>
<rect x="880.95" y="665.56" width="1.6" height="75.44" fill="#0fa6a0"/>
<rect x="883.58" y="665.56" width="1.6" height="75.44" fill="#0fa6a0"/>
<rect x="886.20" y="666.48" width="1.6" height="74.52" fill="#0fa6a0"/>
<rect x="888.83" y="669.24" width="1.6" height="71.76" fill="#0fa6a0"/>
<rect x="891.45" y="669.24" width="1.6" height="71.76" fill="#0fa6a0"/>
<rect x="894.08" y="670.16" width="1.6" height="70.84" fill="#0fa6a0"/>
<rect x="896.70" y="668.32" width="1.6" height="72.68" fill="#0fa6a0"/>
<rect x="899.33" y="667.40" width="1.6" height="73.60" fill="#0fa6a0"/>
<rect x="901.95" y="670.16" width="1.6" height="70.84" fill="#0fa6a0"/>
<rect x="904.58" y="672.00" width="1.6" height="69.00" fill="#0fa6a0"/>
<rect x="907.20" y="671.08" width="1.6" height="69.92" fill="#0fa6a0"/>
<rect x="909.83" y="672.00" width="1.6" height="69.00" fill="#0fa6a0"/>
<rect x="912.46" y="672.00" width="1.6" height="69.00" fill="#0fa6a0"/>
<rect x="915.08" y="673.84" width="1.6" height="67.16" fill="#0fa6a0"/>
<rect x="917.71" y="674.76" width="1.6" height="66.24" fill="#0fa6a0"/>
<rect x="920.33" y="674.76" width="1.6" height="66.24" fill="#0fa6a0"/>
<rect x="922.96" y="674.76" width="1.6" height="66.24" fill="#0fa6a0"/>
<rect x="925.58" y="677.52" width="1.6" height="63.48" fill="#0fa6a0"/>
<rect x="928.21" y="679.36" width="1.6" height="61.64" fill="#0fa6a0"/>
<rect x="930.83" y="680.28" width="1.6" height="60.72" fill="#0fa6a0"/>
<rect x="933.46" y="679.36" width="1.6" height="61.64" fill="#0fa6a0"/>
<rect x="936.08" y="679.36" width="1.6" height="61.64" fill="#0fa6a0"/>
<rect x="938.71" y="683.96" width="1.6" height="57.04" fill="#0fa6a0"/>
<rect x="941.34" y="683.04" width="1.6" height="57.96" fill="#0fa6a0"/>
<rect x="943.96" y="684.88" width="1.6" height="56.12" fill="#0fa6a0"/>
<rect x="946.59" y="683.96" width="1.6" height="57.04" fill="#0fa6a0"/>
<rect x="949.21" y="684.88" width="1.6" height="56.12" fill="#0fa6a0"/>
<rect x="951.84" y="686.72" width="1.6" height="54.28" fill="#0fa6a0"/>
<rect x="954.46" y="688.56" width="1.6" height="52.44" fill="#0fa6a0"/>
<rect x="957.09" y="687.64" width="1.6" height="53.36" fill="#0fa6a0"/>
<rect x="959.71" y="689.48" width="1.6" height="51.52" fill="#0fa6a0"/>
<rect x="962.34" y="688.56" width="1.6" height="52.44" fill="#0fa6a0"/>
<rect x="964.96" y="690.40" width="1.6" height="50.60" fill="#0fa6a0"/>
<rect x="967.59" y="691.32" width="1.6" height="49.68" fill="#0fa6a0"/>
<rect x="970.21" y="691.32" width="1.6" height="49.68" fill="#0fa6a0"/>
<rect x="972.84" y="689.48" width="1.6" height="51.52" fill="#0fa6a0"/>
<rect x="975.47" y="692.24" width="1.6" height="48.76" fill="#0fa6a0"/>
<rect x="978.09" y="693.16" width="1.6" height="47.84" fill="#0fa6a0"/>
<rect x="980.72" y="694.08" width="1.6" height="46.92" fill="#0fa6a0"/>
<rect x="983.34" y="695.00" width="1.6" height="46.00" fill="#0fa6a0"/>
<rect x="985.97" y="695.00" width="1.6" height="46.00" fill="#0fa6a0"/>
<rect x="988.59" y="694.08" width="1.6" height="46.92" fill="#0fa6a0"/>
<rect x="991.22" y="695.00" width="1.6" height="46.00" fill="#0fa6a0"/>
<rect x="993.84" y="696.84" width="1.6" height="44.16" fill="#0fa6a0"/>
<rect x="996.47" y="695.92" width="1.6" height="45.08" fill="#0fa6a0"/>
<rect x="999.09" y="695.00" width="1.6" height="46.00" fill="#0fa6a0"/>
<rect x="1001.72" y="694.08" width="1.6" height="46.92" fill="#0fa6a0"/>
<rect x="1004.34" y="696.84" width="1.6" height="44.16" fill="#0fa6a0"/>
<rect x="1006.97" y="695.92" width="1.6" height="45.08" fill="#0fa6a0"/>
<rect x="1009.60" y="696.84" width="1.6" height="44.16" fill="#0fa6a0"/>
<rect x="1012.22" y="695.92" width="1.6" height="45.08" fill="#0fa6a0"/>
<rect x="1014.85" y="695.00" width="1.6" height="46.00" fill="#0fa6a0"/>
<rect x="1017.47" y="695.92" width="1.6" height="45.08" fill="#0fa6a0"/>
<rect x="1020.10" y="697.76" width="1.6" height="43.24" fill="#0fa6a0"/>
<rect x="1022.72" y="697.76" width="1.6" height="43.24" fill="#0fa6a0"/>
<rect x="1025.35" y="697.76" width="1.6" height="43.24" fill="#0fa6a0"/>
<rect x="1027.97" y="698.68" width="1.6" height="42.32" fill="#0fa6a0"/>
<rect x="1030.60" y="700.52" width="1.6" height="40.48" fill="#0fa6a0"/>
<rect x="1033.22" y="700.52" width="1.6" height="40.48" fill="#0fa6a0"/>
<rect x="1035.85" y="700.52" width="1.6" height="40.48" fill="#0fa6a0"/>
<rect x="1038.47" y="701.44" width="1.6" height="39.56" fill="#0fa6a0"/>
<rect x="1041.10" y="701.44" width="1.6" height="39.56" fill="#0fa6a0"/>
<rect x="1043.73" y="700.52" width="1.6" height="40.48" fill="#0fa6a0"/>
<rect x="1046.35" y="701.44" width="1.6" height="39.56" fill="#0fa6a0"/>
<rect x="1048.98" y="702.36" width="1.6" height="38.64" fill="#0fa6a0"/>
<rect x="1051.60" y="702.36" width="1.6" height="38.64" fill="#0fa6a0"/>
<rect x="1054.23" y="703.28" width="1.6" height="37.72" fill="#0fa6a0"/>
<rect x="1056.85" y="704.20" width="1.6" height="36.80" fill="#0fa6a0"/>
<rect x="1059.48" y="703.28" width="1.6" height="37.72" fill="#0fa6a0"/>
<rect x="1062.10" y="704.20" width="1.6" height="36.80" fill="#0fa6a0"/>
<rect x="1064.73" y="704.20" width="1.6" height="36.80" fill="#0fa6a0"/>
<rect x="1067.35" y="706.04" width="1.6" height="34.96" fill="#0fa6a0"/>
<rect x="1069.98" y="704.20" width="1.6" height="36.80" fill="#0fa6a0"/>
<rect x="1072.61" y="706.04" width="1.6" height="34.96" fill="#0fa6a0"/>
<rect x="1075.23" y="706.04" width="1.6" height="34.96" fill="#0fa6a0"/>
<rect x="1077.86" y="706.96" width="1.6" height="34.04" fill="#0fa6a0"/>
<rect x="1080.48" y="706.04" width="1.6" height="34.96" fill="#0fa6a0"/>
<rect x="1083.11" y="706.04" width="1.6" height="34.96" fill="#0fa6a0"/>
<rect x="1085.73" y="705.12" width="1.6" height="35.88" fill="#0fa6a0"/>
<rect x="1088.36" y="704.20" width="1.6" height="36.80" fill="#0fa6a0"/>
<rect x="1090.98" y="706.04" width="1.6" height="34.96" fill="#0fa6a0"/>
<rect x="1093.61" y="706.04" width="1.6" height="34.96" fill="#0fa6a0"/>
<rect x="1096.23" y="706.96" width="1.6" height="34.04" fill="#0fa6a0"/>
<rect x="1098.86" y="707.88" width="1.6" height="33.12" fill="#0fa6a0"/>
<rect x="1101.48" y="707.88" width="1.6" height="33.12" fill="#0fa6a0"/>
<rect x="1104.11" y="706.96" width="1.6" height="34.04" fill="#0fa6a0"/>
<rect x="1106.74" y="707.88" width="1.6" height="33.12" fill="#0fa6a0"/>
<rect x="1109.36" y="708.80" width="1.6" height="32.20" fill="#0fa6a0"/>
<rect x="1111.99" y="707.88" width="1.6" height="33.12" fill="#0fa6a0"/>
<rect x="1114.61" y="707.88" width="1.6" height="33.12" fill="#0fa6a0"/>
<rect x="1117.24" y="707.88" width="1.6" height="33.12" fill="#0fa6a0"/>
<rect x="1119.86" y="708.80" width="1.6" height="32.20" fill="#0fa6a0"/>
<rect x="1122.49" y="708.80" width="1.6" height="32.20" fill="#0fa6a0"/>
<rect x="1125.11" y="700.52" width="1.6" height="40.48" fill="#0fa6a0"/>
<rect x="1127.74" y="604.84" width="1.6" height="136.16" fill="#0fa6a0"/>
<rect x="1127.74" y="560.68" width="2.63" height="44.16" fill="#f5ae45"/>
<rect x="1127.74" y="528.48" width="1.9" height="32.20" fill="#1c2f60"/>
<rect x="1130.36" y="618.64" width="1.6" height="122.36" fill="#0fa6a0"/>
<rect x="1130.36" y="591.04" width="2.63" height="27.60" fill="#f5ae45"/>
<rect x="1130.36" y="562.52" width="1.9" height="28.52" fill="#1c2f60"/>
<rect x="1132.99" y="638.88" width="1.6" height="102.12" fill="#0fa6a0"/>
<rect x="1132.99" y="629.68" width="2.63" height="9.20" fill="#f5ae45"/>
<rect x="1132.99" y="601.16" width="1.9" height="28.52" fill="#1c2f60"/>
<rect x="1135.61" y="647.16" width="1.6" height="93.84" fill="#0fa6a0"/>
<rect x="1135.61" y="638.88" width="2.63" height="8.28" fill="#f5ae45"/>
<rect x="1135.61" y="610.36" width="1.9" height="28.52" fill="#1c2f60"/>
<rect x="1138.24" y="663.72" width="1.6" height="77.28" fill="#0fa6a0"/>
<rect x="1138.24" y="658.20" width="2.63" height="5.52" fill="#f5ae45"/>
<rect x="1138.24" y="632.44" width="2.63" height="25.76" fill="#3a69a8"/>
<rect x="1138.24" y="632.44" width="1.9" height="25.76" fill="#1c2f60"/>
<rect x="1140.87" y="669.24" width="1.6" height="71.76" fill="#0fa6a0"/>
<rect x="1140.87" y="664.64" width="2.63" height="4.60" fill="#f5ae45"/>
<rect x="1140.87" y="641.64" width="2.63" height="23.00" fill="#3a69a8"/>
<rect x="1140.87" y="641.64" width="1.9" height="23.00" fill="#1c2f60"/>
<rect x="1143.49" y="677.52" width="1.6" height="63.48" fill="#0fa6a0"/>
<rect x="1143.49" y="673.84" width="2.63" height="3.68" fill="#f5ae45"/>
<rect x="1143.49" y="652.68" width="2.63" height="21.16" fill="#3a69a8"/>
<rect x="1143.49" y="652.68" width="1.9" height="21.16" fill="#1c2f60"/>
<rect x="1146.12" y="679.36" width="1.6" height="61.64" fill="#0fa6a0"/>
<rect x="1146.12" y="675.68" width="2.63" height="3.68" fill="#f5ae45"/>
<rect x="1146.12" y="649.00" width="2.63" height="26.68" fill="#3a69a8"/>
<rect x="1146.12" y="649.00" width="1.9" height="26.68" fill="#1c2f60"/>
<rect x="1148.74" y="679.36" width="1.6" height="61.64" fill="#0fa6a0"/>
<rect x="1148.74" y="674.76" width="2.63" height="4.60" fill="#f5ae45"/>
<rect x="1148.74" y="644.40" width="2.63" height="30.36" fill="#3a69a8"/>
<rect x="1148.74" y="644.40" width="1.9" height="30.36" fill="#1c2f60"/>
<rect x="1151.37" y="683.04" width="1.6" height="57.96" fill="#0fa6a0"/>
<rect x="1151.37" y="678.44" width="2.63" height="4.60" fill="#f5ae45"/>
<rect x="1151.37" y="649.00" width="2.63" height="29.44" fill="#3a69a8"/>
<rect x="1151.37" y="649.00" width="1.9" height="29.44" fill="#1c2f60"/>
<rect x="1153.99" y="683.96" width="1.6" height="57.04" fill="#0fa6a0"/>
<rect x="1153.99" y="680.28" width="2.63" height="3.68" fill="#f5ae45"/>
<rect x="1153.99" y="653.60" width="2.63" height="26.68" fill="#3a69a8"/>
<rect x="1153.99" y="653.60" width="1.9" height="26.68" fill="#1c2f60"/>
<rect x="1156.62" y="685.80" width="1.6" height="55.20" fill="#0fa6a0"/>
<rect x="1156.62" y="682.12" width="2.63" height="3.68" fill="#f5ae45"/>
<rect x="1156.62" y="656.36" width="2.63" height="25.76" fill="#3a69a8"/>
<rect x="1156.62" y="656.36" width="1.9" height="25.76" fill="#1c2f60"/>
<rect x="1159.24" y="684.88" width="1.6" height="56.12" fill="#0fa6a0"/>
<rect x="1159.24" y="682.12" width="2.63" height="2.76" fill="#f5ae45"/>
<rect x="1159.24" y="658.20" width="2.63" height="23.92" fill="#3a69a8"/>
<rect x="1159.24" y="658.20" width="1.9" height="23.92" fill="#1c2f60"/>
<rect x="1161.87" y="687.64" width="1.6" height="53.36" fill="#0fa6a0"/>
<rect x="1161.87" y="684.88" width="2.63" height="2.76" fill="#f5ae45"/>
<rect x="1161.87" y="661.88" width="2.63" height="23.00" fill="#3a69a8"/>
<rect x="1161.87" y="661.88" width="1.9" height="23.00" fill="#1c2f60"/>
</g>
<rect x="710.3" y="740.4" width="454.2" height="1.2" fill="#10a5a0"/>
<text x="721.3" y="760.5" font-size="14.8" fill="#8c8c8c" text-anchor="middle">2007</text>
<text x="784.8" y="760.5" font-size="14.8" fill="#8c8c8c" text-anchor="middle">2009</text>
<text x="847.6" y="760.5" font-size="14.8" fill="#8c8c8c" text-anchor="middle">2011</text>
<text x="911.2" y="760.5" font-size="14.8" fill="#8c8c8c" text-anchor="middle">2013</text>
<text x="974" y="760.5" font-size="14.8" fill="#8c8c8c" text-anchor="middle">2015</text>
<text x="1037" y="760.5" font-size="14.8" fill="#8c8c8c" text-anchor="middle">2017</text>
<text x="1100.6" y="760.5" font-size="14.8" fill="#8c8c8c" text-anchor="middle">2019</text>
<text x="1162.8" y="760.5" font-size="14.8" fill="#8c8c8c" text-anchor="middle">2021</text>
<rect x="715.5" y="530.8" width="11.2" height="11.2" fill="#14ada7"/>
<text x="733.5" y="542" font-size="14.4" fill="#2a2a2a" textLength="135.0" lengthAdjust="spacing">Unemployment Rate</text>
<rect x="882.8" y="530.8" width="11.2" height="11.2" fill="#1c2f60"/>
<text x="901.3" y="542" font-size="14.4" fill="#2a2a2a" textLength="196.0" lengthAdjust="spacing">Adjusted Unemployment Rate</text>
<rect x="715.5" y="564.6" width="11.2" height="11.2" fill="#f5a93a"/>
<text x="734.5" y="575.8" font-size="14.4" fill="#2a2a2a" textLength="191.5" lengthAdjust="spacing">Absentee Worker Adjustment</text>
<text x="682" y="791.9" font-size="12.6" fill="#4a4a4a" textLength="91.0" lengthAdjust="spacing">As of May 2021</text>
<text x="681" y="813.8" font-size="12.6" fill="#606060" textLength="489.9" lengthAdjust="spacing">Official unemployment rate accounts for people who are out of work and looking for</text>
<text x="681" y="829.5" font-size="12.6" fill="#606060" textLength="475.9" lengthAdjust="spacing">a job. In April and May 2020, US Bureau of Labor Statistics classified workers that</text>
<text x="681" y="845.1999999999999" font-size="12.6" fill="#606060" textLength="487.7" lengthAdjust="spacing">reported being employed, but not at work as “employed.” Had they been classified</text>
<text x="681" y="860.9" font-size="12.6" fill="#606060" textLength="497.2" lengthAdjust="spacing">as unemployed, the unemployment rate would have been 4.8 ppts higher in April and</text>
<text x="681" y="876.5999999999999" font-size="12.6" fill="#606060" textLength="479.8" lengthAdjust="spacing">3 ppts higher in May; this decreased to &lt;0.5 ppt for August–October; the adjusted</text>
<text x="681" y="892.3" font-size="12.6" fill="#606060" textLength="480.2" lengthAdjust="spacing">unemployment rate treats the fall in labor market participation as unemployed as a</text>
<text x="681" y="908.0" font-size="12.6" fill="#606060" textLength="227.2" lengthAdjust="spacing">proportion of total working age people.</text>
<text x="681" y="928.4" font-size="12.6" fill="#606060" textLength="270.0" lengthAdjust="spacing">Source: Department of Labor, Haver Analytics</text>
</svg>
</body></html>
